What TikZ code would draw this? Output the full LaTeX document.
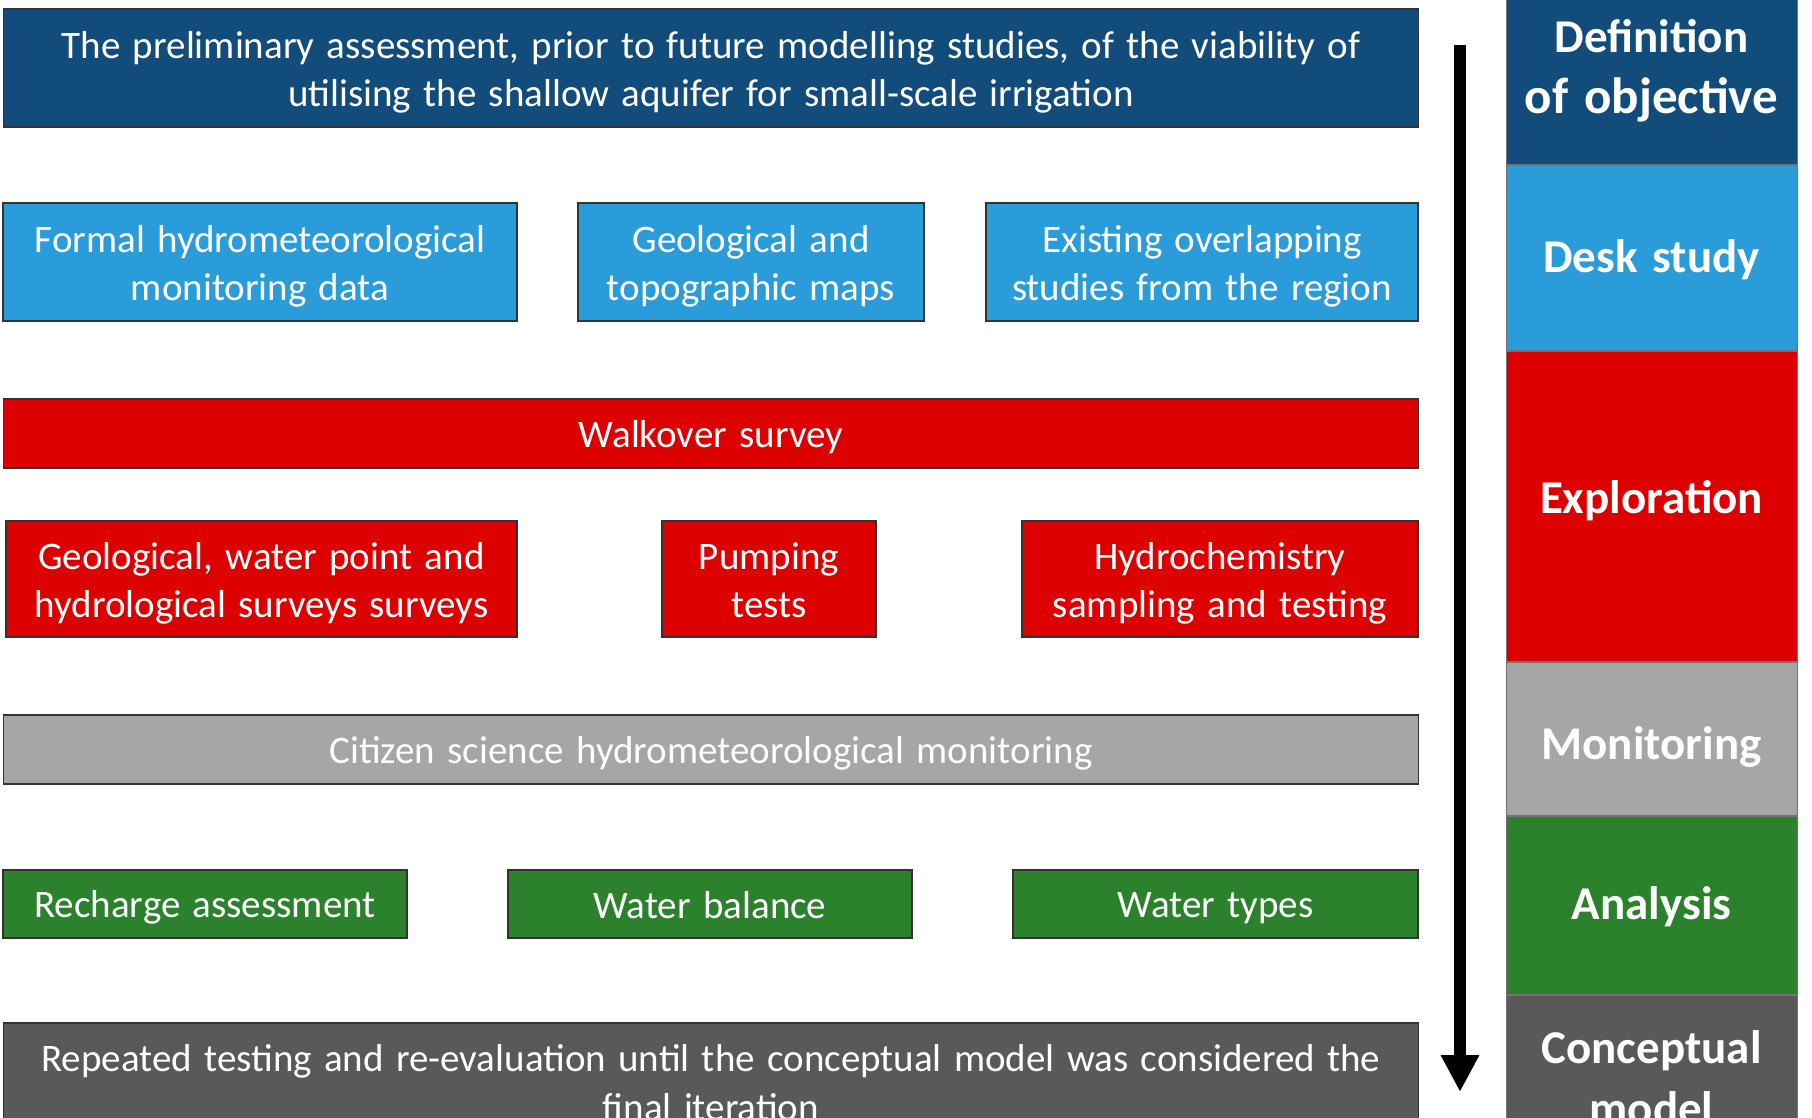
\documentclass[tikz,border=0pt]{standalone}
\usepackage{fontspec}
\setmainfont{Carlito}[WordSpace=1.4]
\usepackage{tikz}
\usetikzlibrary{arrows.meta,positioning}
\usepackage{xcolor}

\definecolor{objblue}{RGB}{18,76,122}
\definecolor{deskblue}{RGB}{42,156,218}
\definecolor{explred}{RGB}{220,0,0}
\definecolor{monigray}{RGB}{166,166,166}
\definecolor{anagreen}{RGB}{44,130,44}
\definecolor{concgray}{RGB}{89,89,89}

\begin{document}
\begin{tikzpicture}[x=1pt, y=-1pt,
  box/.style={draw=black!80, line width=1.5pt, text=white, inner sep=0pt, align=center,
    execute at begin node={\rule{0pt}{34pt}}, execute at end node={\rule[-6pt]{0pt}{6pt}},
    font=\fontsize{39}{48.5}\selectfont},
  twoline/.style={text height=83pt, text depth=6pt},
  stage/.style={draw=black!55, line width=1pt, text=white, inner sep=0pt, align=center,
    minimum width=291pt,
    execute at begin node={\rule{0pt}{37pt}}, execute at end node={\rule[-8pt]{0pt}{8pt}},
    font=\fontsize{47}{61}\selectfont\bfseries}]
  \useasboundingbox (0,0) rectangle (1812,1117);
  \clip (0,0) rectangle (1812,1117);
  % Objective
  \node[box, twoline, fill=objblue, minimum width=1415pt, minimum height=118pt] (aim) at (711,68)
    {The preliminary assessment, prior to future modelling studies, of the viability of\\
     utilising the shallow aquifer for small-scale irrigation};
  % Desk study
  \node[box, twoline, fill=deskblue, minimum width=514pt, minimum height=118pt] (formal) at (260,262)
    {Formal hydrometeorological\\monitoring data};
  \node[box, twoline, fill=deskblue, minimum width=346pt, minimum height=118pt] (maps) at (751,262)
    {Geological and\\topographic maps};
  \node[box, twoline, fill=deskblue, minimum width=432pt, minimum height=118pt] (existing) at (1202,262)
    {Existing overlapping\\studies from the region};
  % Exploration
  \node[box, fill=explred, minimum width=1415pt, minimum height=69pt] (walk) at (711,433.5)
    {Walkover survey};
  \node[box, twoline, fill=explred, minimum width=511pt, minimum height=116pt] (geosurv) at (261.5,579)
    {Geological, water point and\\hydrological surveys surveys};
  \node[box, twoline, fill=explred, minimum width=214pt, minimum height=116pt] (pump) at (769,579)
    {Pumping\\tests};
  \node[box, twoline, fill=explred, minimum width=396pt, minimum height=116pt] (hydro) at (1220,579)
    {Hydrochemistry\\sampling and testing};
  % Monitoring
  \node[box, fill=monigray, minimum width=1415pt, minimum height=69pt] (citizen) at (711,749.5)
    {Citizen science hydrometeorological monitoring};
  % Analysis
  \node[box, fill=anagreen, minimum width=404pt, minimum height=68pt] (recharge) at (205,904)
    {Recharge assessment};
  \node[box, fill=anagreen, minimum width=404pt, minimum height=68pt] (balance) at (710,904)
    {Water balance};
  \node[box, fill=anagreen, minimum width=405pt, minimum height=68pt] (types) at (1215.5,904)
    {Water types};
  % Conceptual model
  \node[box, twoline, fill=concgray, minimum width=1415pt, minimum height=117pt] (repeat) at (711,1081.5)
    {Repeated testing and re-evaluation until the conceptual model was considered the\\
     final iteration};
  % Time arrow
  \coordinate (arrtop) at (1460,45);
  \coordinate (arrbot) at (1460,1092);
  \draw[line width=12pt, -{Triangle[width=36pt, length=37pt]}] (arrtop) -- (arrbot);
  % Stages
  \node[stage, fill=objblue, minimum height=194pt, text height=101pt, text depth=8pt] (defn) at (1651.5,67)
    {Definition\\{\fontsize{51}{61}\selectfont of objective}};
  \node[stage, fill=deskblue, minimum height=185pt, below=0pt of defn] (desk) {Desk study};
  \node[stage, fill=explred, minimum height=310pt, below=0pt of desk] (explo) {\raisebox{10pt}{Exploration}};
  \node[stage, fill=monigray, minimum height=153pt, below=0pt of explo] (moni) {\raisebox{-12pt}{Monitoring}};
  \node[stage, fill=anagreen, minimum height=178pt, below=0pt of moni] (ana) {Analysis};
  \node[stage, fill=concgray, minimum height=172pt, below=0pt of ana] (conc) {Conceptual\\model};
\end{tikzpicture}
\end{document}
